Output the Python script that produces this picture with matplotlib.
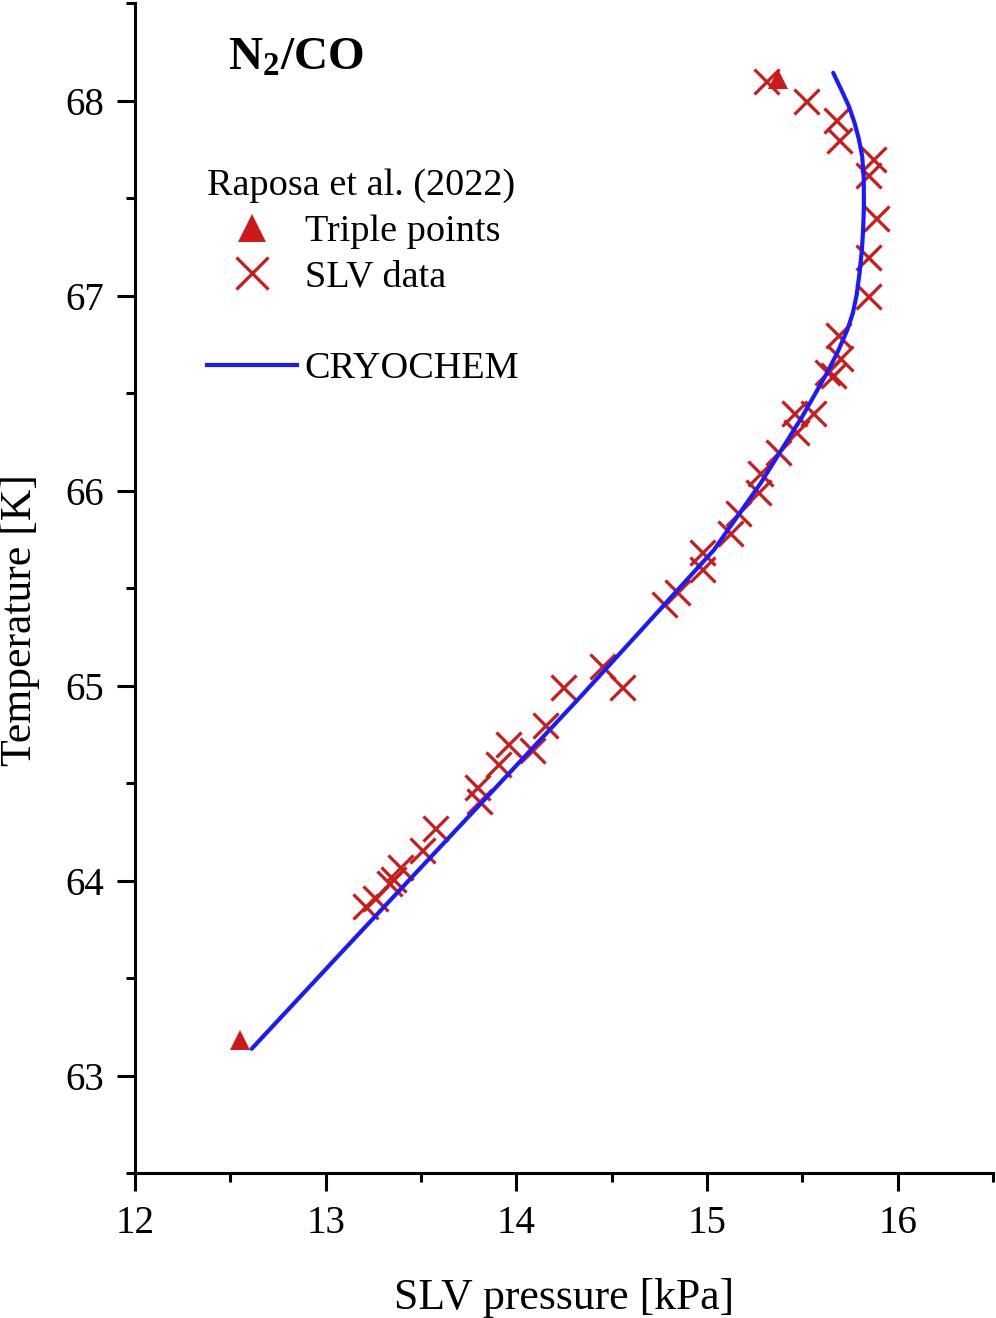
import matplotlib
matplotlib.use("Agg")
import numpy as np
from matplotlib import pyplot as plt
from matplotlib.lines import Line2D

plt.rcParams["font.family"] = ["Liberation Serif", "DejaVu Serif"]
plt.rcParams["mathtext.fontset"] = "custom"
plt.rcParams["mathtext.rm"] = "Liberation Serif"
plt.rcParams["mathtext.bf"] = "Liberation Serif:bold"

# Raposa et al. (2022) triple points
tp_p = [15.375, 12.551]
tp_T = [68.108, 63.181]

# Raposa et al. (2022) SLV data
slv_p = [15.31, 15.52, 15.675, 15.69, 15.87, 15.845, 15.885, 15.845, 15.845,
         15.685, 15.70, 15.63, 15.66, 15.555, 15.455, 15.465, 15.37, 15.28,
         15.265, 15.16, 15.123, 14.976, 14.976, 14.845, 14.772, 14.45, 14.556,
         14.247, 14.152, 14.084, 13.958, 13.905, 13.795, 13.805, 13.575,
         13.507, 13.39, 13.355, 13.33, 13.26, 13.207]
slv_T = [68.10, 68.00, 67.90, 67.80, 67.70, 67.62, 67.40, 67.20, 67.00,
         66.80, 66.68, 66.61, 66.59, 66.40, 66.40, 66.30, 66.20, 66.09,
         65.99, 65.885, 65.78, 65.685, 65.60, 65.48, 65.42, 65.10, 64.99,
         64.99, 64.80, 64.67, 64.70, 64.60, 64.48, 64.41, 64.27,
         64.155, 64.07, 64.01, 63.985, 63.91, 63.87]

# CRYOCHEM model curve
cryo_p = [12.612, 13.093, 13.864, 14.336, 14.67, 15.036, 15.281, 15.50,
          15.628, 15.685, 15.736, 15.765, 15.785, 15.80, 15.812, 15.819,
          15.823, 15.822, 15.814, 15.797, 15.774, 15.744, 15.704, 15.662]
cryo_T = [63.137, 63.642, 64.447, 64.942, 65.30, 65.695, 66.037, 66.38,
          66.60, 66.71, 66.824, 66.91, 67.004, 67.115, 67.23, 67.34,
          67.457, 67.60, 67.714, 67.80, 67.885, 67.971, 68.056, 68.142]

red = "#cc1a1a"
blue = "#1a1aff"

fig = plt.figure(figsize=(9.96, 13.18), dpi=100)
ax = fig.add_axes([0.1355, 0.110, 0.8615, 0.8877])

ax.plot(cryo_p, cryo_T, color=blue, lw=3, solid_capstyle="round",
        solid_joinstyle="round", zorder=3)
ax.plot(slv_p, slv_T, "x", color=red, ms=18, mew=2.3, zorder=2)
ax.plot(tp_p, tp_T, "^", color=red, ms=15, mew=0, zorder=4)

ax.set_xlim(12, 16.5)
ax.set_ylim(62.5, 68.5)
ax.set_xticks(np.arange(12, 16.6, 1.0))
ax.set_xticks(np.arange(12.5, 16.6, 1.0), minor=True)
ax.set_yticks(np.arange(63, 68.1, 1.0))
ax.set_yticks(np.arange(62.5, 68.6, 1.0), minor=True)

for side in ["top", "right"]:
    ax.spines[side].set_visible(False)
for side in ["left", "bottom"]:
    ax.spines[side].set_linewidth(2.2)

ax.tick_params(which="major", direction="out", length=13, width=2.2,
               labelsize=28)
ax.tick_params(which="minor", direction="out", length=6.5, width=2.2)
ax.tick_params(axis="y", which="major", pad=9)
ax.tick_params(axis="x", which="major", pad=10)

ax.set_xlabel("SLV pressure [kPa]", fontsize=31.5, labelpad=26)
ax.set_ylabel("Temperature [K]", fontsize=31.5)
ax.yaxis.set_label_coords(-0.111, 0.473)

ax.text(0.108, 0.943, r"$\mathbf{N_2/CO}$", transform=ax.transAxes,
        fontsize=34, va="baseline", ha="left")

handles = [
    Line2D([], [], ls="none", marker="^", color=red, ms=15, mew=0),
    Line2D([], [], ls="none", marker="x", color=red, ms=18, mew=2.3),
    Line2D([], [], ls="none"),
    Line2D([], [], color=blue, lw=3),
]
labels = ["Triple points", "SLV data", " ", "CRYOCHEM"]
leg = ax.legend(handles, labels, title="Raposa et al. (2022)",
                loc="upper left", bbox_to_anchor=(0.084, 0.8586),
                frameon=False, fontsize=27.5, title_fontsize=27.5,
                alignment="left", handlelength=2.36, handletextpad=0.2,
                labelspacing=0.29, borderpad=0, borderaxespad=0,
                markerscale=1.3)

fig.savefig("out.png", dpi=100)
